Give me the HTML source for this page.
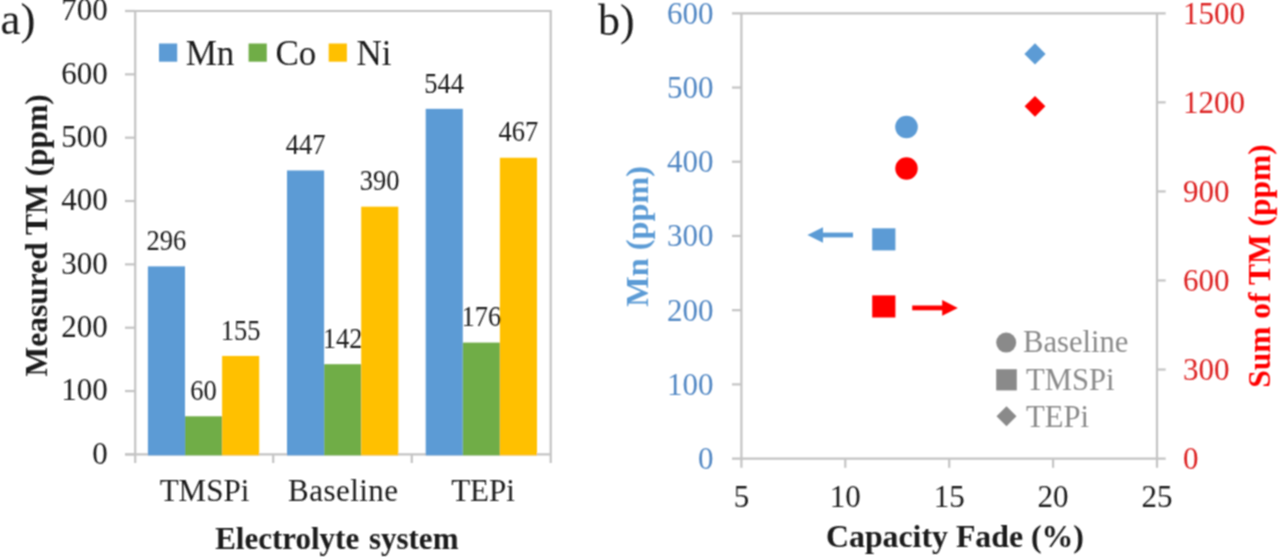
<!DOCTYPE html><html><head><meta charset="utf-8"><style>html,body{margin:0;padding:0;background:#fff;width:1280px;height:558px;overflow:hidden}svg{display:block}text{font-family:"Liberation Serif","Times New Roman",serif}</style></head><body>
<svg width="1280" height="558" viewBox="0 0 1280 558">
<defs><filter id="bl" x="0" y="0" width="1280" height="558" filterUnits="userSpaceOnUse"><feConvolveMatrix order="3" kernelMatrix="0.0625 0.1250 0.0625 0.1250 0.2500 0.1250 0.0625 0.1250 0.0625" edgeMode="duplicate" preserveAlpha="false"/></filter></defs>
<rect width="1280" height="558" fill="#fff"/>
<g filter="url(#bl)">
<g stroke="#c4c4c4" stroke-width="2.2" fill="none">
<path d="M125.0 11.0H550.7V463.0M135.2 11.0V463.0M125.0 454.4H550.7"/>
<path d="M125.0 454.40H135.2"/>
<path d="M125.0 391.06H135.2"/>
<path d="M125.0 327.71H135.2"/>
<path d="M125.0 264.37H135.2"/>
<path d="M125.0 201.03H135.2"/>
<path d="M125.0 137.69H135.2"/>
<path d="M125.0 74.34H135.2"/>
<path d="M125.0 11.00H135.2"/>
<path d="M273.20 454.4V463.0"/>
<path d="M411.80 454.4V463.0"/>
</g>
<rect x="147.90" y="266.38" width="37.10" height="189.02" fill="#5b9bd5"/>
<rect x="185.00" y="416.29" width="37.10" height="39.11" fill="#70ad47"/>
<rect x="222.10" y="355.94" width="37.10" height="99.46" fill="#ffc000"/>
<rect x="287.00" y="170.47" width="37.10" height="284.93" fill="#5b9bd5"/>
<rect x="324.10" y="364.20" width="37.10" height="91.20" fill="#70ad47"/>
<rect x="361.20" y="206.67" width="37.10" height="248.73" fill="#ffc000"/>
<rect x="425.70" y="108.85" width="37.10" height="346.55" fill="#5b9bd5"/>
<rect x="462.80" y="342.60" width="37.10" height="112.80" fill="#70ad47"/>
<rect x="499.90" y="157.76" width="37.10" height="297.64" fill="#ffc000"/>
<g font-size="31" fill="#1a1a1a" text-anchor="end">
<text x="107.7" y="463.80">0</text>
<text x="107.7" y="400.46">100</text>
<text x="107.7" y="337.11">200</text>
<text x="107.7" y="273.77">300</text>
<text x="107.7" y="210.43">400</text>
<text x="107.7" y="147.09">500</text>
<text x="107.7" y="83.74">600</text>
<text x="107.7" y="20.40">700</text>
</g>
<g font-size="26.5" fill="#1a1a1a" text-anchor="middle">
<text transform="translate(166.45 250.08) scale(1 1.08)">296</text>
<text transform="translate(203.55 399.99) scale(1 1.08)">60</text>
<text transform="translate(240.65 339.64) scale(1 1.08)">155</text>
<text transform="translate(305.55 154.17) scale(1 1.08)">447</text>
<text transform="translate(342.65 347.90) scale(1 1.08)">142</text>
<text transform="translate(379.75 190.37) scale(1 1.08)">390</text>
<text transform="translate(444.25 92.55) scale(1 1.08)">544</text>
<text transform="translate(481.35 326.30) scale(1 1.08)">176</text>
<text transform="translate(518.45 141.46) scale(1 1.08)">467</text>
</g>
<g font-size="31" fill="#1a1a1a" text-anchor="middle">
<text x="204.50" y="501.1">TMSPi</text>
<text x="343.30" y="501.1" letter-spacing="0.45">Baseline</text>
<text x="483.00" y="501.1">TEPi</text>
</g>
<text x="336.8" y="549" font-size="31" font-weight="bold" fill="#1a1a1a" text-anchor="middle" word-spacing="2">Electrolyte system</text>
<text transform="translate(47 235.3) rotate(-90)" font-size="31.5" font-weight="bold" fill="#1a1a1a" text-anchor="middle">Measured TM (ppm)</text>
<rect x="159" y="43.5" width="18.2" height="18.2" fill="#5b9bd5"/>
<text x="185.7" y="64.8" font-size="35" fill="#1a1a1a">Mn</text>
<rect x="248.6" y="43.5" width="18.2" height="18.2" fill="#70ad47"/>
<text x="275.5" y="64.8" font-size="35" fill="#1a1a1a">Co</text>
<rect x="328.7" y="43.5" width="18.2" height="18.2" fill="#ffc000"/>
<text x="356.5" y="64.8" font-size="35" fill="#1a1a1a">Ni</text>
<text x="0.5" y="34.3" font-size="45" fill="#1a1a1a">a)</text>
<g stroke="#c4c4c4" stroke-width="2.2" fill="none">
<path d="M732.0 13.3H1165.7M732.0 458.6H1165.7M741.4 13.3V467.8M1157.0 13.3V467.8"/>
<path d="M732.0 384.38H741.4"/>
<path d="M732.0 310.17H741.4"/>
<path d="M732.0 235.95H741.4"/>
<path d="M732.0 161.73H741.4"/>
<path d="M732.0 87.52H741.4"/>
<path d="M1157.0 369.54H1165.7"/>
<path d="M1157.0 280.48H1165.7"/>
<path d="M1157.0 191.42H1165.7"/>
<path d="M1157.0 102.36H1165.7"/>
<path d="M845.30 458.6V467.8"/>
<path d="M949.20 458.6V467.8"/>
<path d="M1053.10 458.6V467.8"/>
</g>
<g font-size="31" fill="#5288c4" text-anchor="end">
<text x="713.5" y="469.10">0</text>
<text x="713.5" y="394.88">100</text>
<text x="713.5" y="320.67">200</text>
<text x="713.5" y="246.45">300</text>
<text x="713.5" y="172.23">400</text>
<text x="713.5" y="98.02">500</text>
<text x="713.5" y="23.80">600</text>
</g>
<g font-size="31" fill="#dd2222" text-anchor="start">
<text x="1183" y="469.10">0</text>
<text x="1183" y="380.04">300</text>
<text x="1183" y="290.98">600</text>
<text x="1183" y="201.92">900</text>
<text x="1183" y="112.86">1200</text>
<text x="1183" y="23.80">1500</text>
</g>
<g font-size="31" fill="#1a1a1a" text-anchor="middle">
<text x="741.40" y="506.5">5</text>
<text x="845.30" y="506.5">10</text>
<text x="949.20" y="506.5">15</text>
<text x="1053.10" y="506.5">20</text>
<text x="1157.00" y="506.5">25</text>
</g>
<text x="955" y="547.2" font-size="31.8" font-weight="bold" fill="#1a1a1a" text-anchor="middle">Capacity Fade (%)</text>
<text transform="translate(647.8 236.4) rotate(-90)" font-size="32.3" font-weight="bold" fill="#5b9bd5" text-anchor="middle">Mn (ppm)</text>
<text transform="translate(1270.3 266) rotate(-90)" font-size="31.5" font-weight="bold" fill="#ff0000" text-anchor="middle">Sum of TM (ppm)</text>
<text x="598" y="34.5" font-size="44" fill="#1a1a1a">b)</text>
<circle cx="906.5" cy="127" r="11.3" fill="#5b9bd5"/>
<circle cx="906.5" cy="168.5" r="11.2" fill="#ff0000"/>
<rect x="872.2" y="228.3" width="23.2" height="22.1" fill="#5b9bd5"/>
<rect x="872.2" y="295.4" width="23.2" height="22.1" fill="#ff0000"/>
<path d="M1035 43.3L1045.6 53.9L1035 64.5L1024.4 53.9Z" fill="#5b9bd5"/>
<path d="M1035 95.89999999999999L1045.4 106.3L1035 116.7L1024.6 106.3Z" fill="#ff0000"/>
<path d="M853 235H822" stroke="#5b9bd5" stroke-width="4.8"/>
<path d="M807.4 235L823 227.2L823 242.8Z" fill="#5b9bd5"/>
<path d="M912.2 307.9H943" stroke="#ff0000" stroke-width="4.8"/>
<path d="M957.8 307.9L942.2 300.1L942.2 315.7Z" fill="#ff0000"/>
<circle cx="1006.2" cy="342.6" r="10.0" fill="#8a8a8a"/>
<rect x="996.2" y="369.2" width="20.6" height="21.2" fill="#8a8a8a"/>
<path d="M1006.5 406.2L1016.5 416.2L1006.5 426.2L996.5 416.2Z" fill="#8a8a8a"/>
<g font-size="30.6" fill="#8a8a8a">
<text x="1023" y="351.8">Baseline</text><text x="1026" y="389.9">TMSPi</text><text x="1026" y="427">TEPi</text>
</g>
</g></svg></body></html>
